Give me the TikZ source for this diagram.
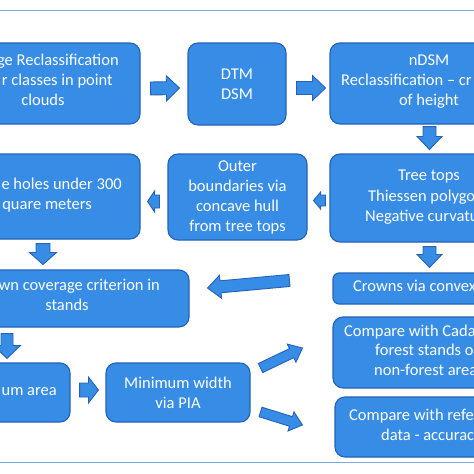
\documentclass[tikz,border=0pt]{standalone}
\usepackage{fontspec}
\setmainfont{Carlito}
\usetikzlibrary{calc}
\definecolor{boxblue}{RGB}{55,140,230}
\definecolor{edgeblue}{RGB}{36,98,184}
\definecolor{ruleblue}{RGB}{120,170,228}
\tikzset{
  box/.style={draw=edgeblue, fill=boxblue, line width=1.1pt, rounded corners=10pt,
    text=white, align=center, inner sep=0pt, font=\fontsize{16.5}{20}\selectfont},
  txt/.style={text=white, inner sep=0pt, font=\fontsize{16.5}{20}\selectfont},
  blockarr/.style={draw=edgeblue, fill=boxblue, line width=0.9pt, line join=miter},
  rule/.style={draw=ruleblue, line width=1pt}
}
% #1 start, #2 end, #3 shaft half width, #4 head half width, #5 head length
\newcommand\blockarrow[5]{%
  \coordinate (bas) at #1;
  \coordinate (bae) at #2;
  \coordinate (bac) at ($(bae)!#5!(bas)$);
  \path[blockarr] ($(bas)!#3!90:(bae)$) -- ($(bac)!#3!90:(bae)$) -- ($(bac)!#4!90:(bae)$)
    -- (bae) -- ($(bac)!#4!-90:(bae)$) -- ($(bac)!#3!-90:(bae)$) -- ($(bas)!#3!-90:(bae)$) -- cycle;
}
\begin{document}
\begin{tikzpicture}[x=1pt,y=-1pt]
\useasboundingbox (0,0) rectangle (474,474);
\clip (0,0) rectangle (474,474);
\fill[white] (0,0) rectangle (474,474);
\draw[rule] (0,10) -- (474,10);
\draw[rule] (0,462) -- (474,462);

% boxes
\node[box, minimum width=194pt, minimum height=81pt] (A) at (43,83.5) {};
\node[box, minimum width=98pt, minimum height=82pt] (B) at (237,84) {DTM\\DSM};
\node[box, minimum width=198pt, minimum height=81pt] (C) at (429,83.5) {};
\node[box, minimum width=198pt, minimum height=88pt] (D) at (429,198) {};
\node[box, minimum width=139pt, minimum height=86pt] (E) at (237.5,197) {Outer\\boundaries via\\concave hull\\from tree tops};
\node[box, minimum width=194pt, minimum height=85pt] (F) at (43,196.5) {};
\node[box, minimum width=244pt, minimum height=57pt] (G) at (67,298.5) {};
\node[box, rounded corners=6pt, minimum width=192pt, minimum height=31pt] (H) at (429,288.5) {};
\node[box, minimum width=126pt, minimum height=59pt] (I) at (7,392.5) {};
\node[box, minimum width=144pt, minimum height=59pt] (J) at (178,392.5) {Minimum width\\via PIA};
\node[box, minimum width=192pt, minimum height=71pt] (K) at (429,352.5) {};
\node[box, minimum width=188pt, minimum height=60pt] (L) at (429,427) {};

% block arrows (connectors)
\blockarrow{($(A.east)+(10,5)$)}{($(B.west)+(-8,4)$)}{6.5pt}{12.5pt}{13pt}
\blockarrow{($(B.east)+(10,4)$)}{($(C.west)+(-4,4.5)$)}{6.5pt}{12.5pt}{13pt}
\blockarrow{($(C.south)+(0.5,2)$)}{($(D.north)+(0.5,-4)$)}{6.5pt}{12.5pt}{13pt}
\blockarrow{($(D.west)+(-4,2.5)$)}{($(E.east)+(6,3.5)$)}{5.5pt}{8.5pt}{7pt}
\blockarrow{($(E.west)+(-8,4.5)$)}{($(F.east)+(7,5)$)}{6.5pt}{10.5pt}{7pt}
\blockarrow{($(F.south)+(0,4)$)}{($(F.south|-G.north)+(0,-5)$)}{7pt}{13.5pt}{12pt}
\blockarrow{($(D.south)+(0.5,4)$)}{($(H.north)+(0.5,-5)$)}{6.5pt}{12.5pt}{13pt}
\blockarrow{($(H.west)+(-43,-8)$)}{($(G.east)+(18,-10.5)$)}{6pt}{11.5pt}{13pt}
\blockarrow{($(I.north|-G.south)+(0,6)$)}{($(I.north)+(0,-4)$)}{6pt}{13.5pt}{13pt}
\blockarrow{($(I.east)+(9,-2.5)$)}{($(J.west)+(-7,-2.5)$)}{7pt}{13pt}{10pt}
\blockarrow{($(J.east)+(10,-24.5)$)}{($(K.west)+(-30,-4.5)$)}{5pt}{10pt}{12pt}
\blockarrow{($(J.east)+(10,19.5)$)}{($(L.west)+(-32,-2)$)}{5pt}{10pt}{12pt}

% visible text of the cropped boxes
\node[txt, anchor=mid east] (ta1) at (119,63) {ge Reclassification};
\node[txt, anchor=mid east] (ta2) at (113,83) {r classes in point};
\node[txt, anchor=mid] (ta3) at (43,103) {clouds};
\node[txt, anchor=mid] (tc1) at (429,63) {nDSM};
\node[txt, anchor=mid west] (tc2) at (341,83) {Reclassification – cr};
\node[txt, anchor=mid] (tc3) at (429,103) {of height};
\node[txt, anchor=mid] (td1) at (429,178) {Tree tops};
\node[txt, anchor=mid west] (td2) at (368,199) {Thiessen polygo};
\node[txt, anchor=mid west] (td3) at (365,219) {Negative curvatu};
\node[txt, anchor=mid east] (tf1) at (122,187) {e holes under 300};
\node[txt, anchor=mid east] (tf2) at (92,207) {quare meters};
\node[txt, anchor=mid east] (tg1) at (160,288) {wn coverage criterion in};
\node[txt, anchor=mid] (tg2) at (67,308) {stands};
\node[txt, anchor=mid west] (th1) at (353,289) {Crowns via convex};
\node[txt, anchor=mid east] (ti1) at (57,393) {um area};
\node[txt, anchor=mid west] (tk1) at (344,334) {Compare with Cada};
\node[txt, anchor=mid west] (tk2) at (375,353) {forest stands o};
\node[txt, anchor=mid west] (tk3) at (374,373) {non-forest area};
\node[txt, anchor=mid west] (tl1) at (349,418) {Compare with refe};
\node[txt, anchor=mid west] (tl2) at (381,438) {data - accurac};
\end{tikzpicture}
\end{document}
